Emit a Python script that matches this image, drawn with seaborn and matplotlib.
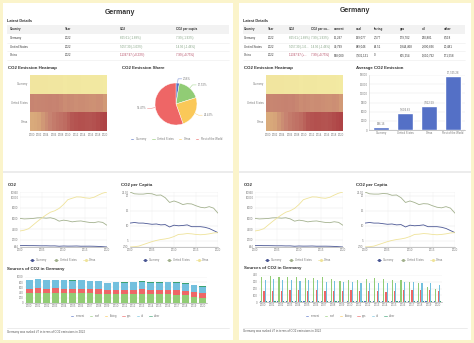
import numpy as np
import pandas as pd
import matplotlib
matplotlib.use('Agg')
import matplotlib.pyplot as plt
import seaborn as sns
from matplotlib.patches import Rectangle, Patch
from matplotlib.lines import Line2D
from matplotlib.colors import LinearSegmentedColormap

# ---------------- data ----------------
years = list(range(2000, 2021))
countries = ['Germany', 'United States', 'China']
co2_germany = [900, 917, 899, 899, 885, 866, 874, 848, 855, 788, 833, 808, 815, 833, 792, 796, 801, 786, 754, 702, 644]
co2_us = [6010, 5910, 5950, 6000, 6110, 6130, 6050, 6130, 5920, 5490, 5680, 5560, 5360, 5480, 5530, 5380, 5250, 5210, 5380, 5260, 4710]
co2_china = [3650, 3800, 4080, 4760, 5440, 6070, 6660, 7170, 7440, 7890, 8620, 9520, 9790, 10050, 10020, 9860, 9780, 9970, 10380, 10740, 10960]
pc_germany = [10.9, 11.1, 10.9, 10.9, 10.7, 10.5, 10.6, 10.3, 10.4, 9.6, 10.2, 10.0, 10.1, 10.3, 9.7, 9.7, 9.7, 9.5, 9.1, 8.4, 7.7]
pc_us = [21.3, 20.7, 20.6, 20.6, 20.8, 20.7, 20.2, 20.3, 19.4, 17.8, 18.3, 17.8, 17.1, 17.4, 17.3, 16.7, 16.2, 16.0, 16.4, 15.9, 14.2]
pc_china = [2.9, 3.0, 3.2, 3.7, 4.2, 4.7, 5.1, 5.4, 5.6, 5.9, 6.4, 7.1, 7.2, 7.4, 7.3, 7.1, 7.0, 7.1, 7.3, 7.6, 7.7]

regions = ['Germany', 'United States', 'China', 'Rest of the World']
avg_co2 = [826.16, 5604.83, 7812.59, 17745.28]

sources = ['cement', 'coal', 'flaring', 'gas', 'oil', 'other']
src_cement = [14, 13, 13, 13, 13, 13, 14, 14, 14, 12, 13, 14, 13, 13, 13, 13, 13, 14, 14, 14, 14]
src_coal = [375, 380, 370, 375, 365, 355, 358, 365, 345, 315, 330, 330, 340, 350, 335, 330, 320, 300, 280, 225, 190]
src_flaring = [2, 2, 2, 2, 2, 2, 2, 2, 2, 2, 2, 2, 2, 2, 2, 2, 2, 2, 2, 2, 2]
src_gas = [165, 170, 170, 172, 172, 170, 172, 165, 170, 160, 172, 160, 160, 170, 150, 158, 175, 180, 175, 175, 170]
src_oil = [330, 340, 325, 320, 315, 320, 320, 290, 310, 290, 290, 280, 285, 285, 285, 285, 290, 290, 275, 280, 255]
src_other = [8, 8, 8, 8, 8, 8, 8, 8, 8, 7, 8, 8, 8, 8, 8, 8, 8, 8, 8, 8, 8]

table_left_header = ['Country', 'Year', 'CO2', 'CO2 per capita']
table_left_rows = [
    ['Germany', '2022', '665.61 (-1.89%)', '7.99 (-1.93%)'],
    ['United States', '2022', '5057.30 (-1.03%)', '14.95 (-1.46%)'],
    ['China', '2022', '11397.97 (+0.23%)', '7.99 (+0.75%)'],
]
table_right_header = ['Country', 'Year', 'CO2', 'CO2 per ca...', 'cement', 'coal', 'flaring', 'gas', 'oil', 'other']
table_right_rows = [
    ['Germany', '2022', '665.61 (-1.89%)', '7.99 (-1.93%)', '15,297', '199,077', '2,577', '179,702', '250,881', '8,518'],
    ['United States', '2022', '5057.30 (-1.0...', '14.95 (-1.46%)', '40,799', '889,046', '64.51', '1,844,468', '2,000,836', '20,481'],
    ['China', '2022', '11397.97 (+...', '7.99 (+0.75%)', '858,000', '7,931,131', '0', '805,254', '1,610,792', '171,558'],
]
footer = 'Germany was ranked #7 in terms of CO2 emissions in 2022'

# ---------------- style ----------------
W, H = 474, 343
sns.set_theme(style='white')
plt.rcParams['font.family'] = ['Liberation Sans', 'DejaVu Sans']

PAL = ['#5470c6', '#91cc75', '#fac858', '#ee6666', '#73c0de', '#3ba272']
src_pal = dict(zip(sources, PAL))
line_pal = {'Germany': '#4b5794', 'United States': '#a3b18e', 'China': '#efe39a'}
pie_colors = PAL[:4]
cmap = LinearSegmentedColormap.from_list('co2', [(0, '#f3eba3'), (0.29, '#d9ab7b'), (0.52, '#c78471'), (1.0, '#ae4446')])
TXT = '#333333'
TICK = '#777777'

fig = plt.figure(figsize=(W / 100, H / 100), dpi=100, facecolor='#fbf4cb')
bg = fig.add_axes([0, 0, 1, 1])
bg.set_xlim(0, W)
bg.set_ylim(H, 0)
bg.axis('off')


def add_ax(x0, y0, x1, y1):
    return fig.add_axes([x0 / W, 1 - y1 / H, (x1 - x0) / W, (y1 - y0) / H])


def txt(x, y, s, size, **kw):
    kw.setdefault('color', TXT)
    kw.setdefault('va', 'center')
    bg.text(x, y, s, fontsize=size, **kw)


def style_axis(ax, grid_x=False):
    for s in ['top', 'right', 'left']:
        ax.spines[s].set_visible(False)
    ax.spines['bottom'].set_color('#9a9a9a')
    ax.spines['bottom'].set_linewidth(0.4)
    ax.tick_params(labelsize=2, length=0, pad=1, colors=TICK)
    ax.grid(axis='y', color='#e6e6e6', lw=0.3)
    if grid_x:
        ax.grid(axis='x', color='#eeeeee', lw=0.3)
    ax.set_axisbelow(True)
    ax.set_xlabel('')
    ax.set_ylabel('')
    ax.set_facecolor('none')


# panels
for px0, px1 in [(3, 233), (239, 471)]:
    bg.add_patch(Rectangle((px0, 3), px1 - px0, 337, facecolor='white', edgecolor='none'))
    bg.add_patch(Rectangle((px0, 170.5), px1 - px0, 2.5, facecolor='#ececec', edgecolor='none'))
    bg.plot([px0 + 4, px1 - 4], [328, 328], color='#e4e4e4', lw=0.5)

# long frames
df_co2 = pd.DataFrame({'year': years * 3,
                       'value': co2_germany + co2_us + co2_china,
                       'country': sum([[c] * len(years) for c in countries], [])})
df_pc = pd.DataFrame({'year': years * 3,
                      'value': pc_germany + pc_us + pc_china,
                      'country': sum([[c] * len(years) for c in countries], [])})
hm = pd.DataFrame([co2_germany, co2_us, co2_china], index=countries, columns=years)
src_lists = [src_cement, src_coal, src_flaring, src_gas, src_oil, src_other]
years_str = [str(y) for y in years]
df_src = pd.DataFrame({'year': years_str * 6,
                       'value': sum(src_lists, []),
                       'source': sum([[s] * len(years) for s in sources], [])})


def draw_table(x0, x1, colx, header, rows):
    bg.add_patch(Rectangle((x0, 25), x1 - x0, 8.5, facecolor='#f2f2f2', edgecolor='none'))
    for yy in [42.5, 51, 59.5]:
        bg.plot([x0, x1], [yy, yy], color='#ececec', lw=0.4)
    for cx, h in zip(colx, header):
        txt(cx, 29.2, h, 2.2, fontweight='bold')
    for r, ry in zip(rows, [38, 46.8, 55.3]):
        for ci, (cx, v) in enumerate(zip(colx, r)):
            col = TXT
            if ci in (2, 3):
                col = '#b0405a' if '+' in v else '#7f9f7f'
            txt(cx, ry, v, 2.1, color=col)


def draw_heatmap(x0):
    ax = add_ax(x0, 75, x0 + 77, 131)
    sns.heatmap(hm, cmap=cmap, vmin=600, vmax=11000, cbar=False, ax=ax,
                xticklabels=2, yticklabels=True, linewidths=0)
    ax.tick_params(labelsize=2, length=0, pad=1.5, colors=TICK)
    plt.setp(ax.get_xticklabels(), rotation=0)
    plt.setp(ax.get_yticklabels(), rotation=0)
    ax.set_xlabel('')
    ax.set_ylabel('')


def line_chart(x0, x1, df, ylims, ticks, fmt):
    ax = add_ax(x0, 192, x1, 247)
    sns.lineplot(data=df, x='year', y='value', hue='country', palette=line_pal,
                 ax=ax, legend=False, linewidth=0.6)
    style_axis(ax, grid_x=True)
    ax.set_xlim(2000, 2020)
    ax.set_xticks([2000, 2005, 2010, 2015, 2020])
    ax.set_ylim(*ylims)
    tk = [ylims[0]] + ticks + [ylims[1]]
    ax.set_yticks(tk)
    ax.set_yticklabels([fmt(t) for t in tk])
    return ax


def line_legend(cx):
    handles = [Line2D([], [], color=line_pal[c], lw=0.5, marker='o', markersize=1.2) for c in countries]
    fig.legend(handles, countries, loc='center', bbox_to_anchor=(cx / W, 1 - 260 / H), ncol=3,
               fontsize=2, frameon=False, handlelength=1.6, columnspacing=2.5, handletextpad=0.5,
               labelcolor=TICK)


def src_legend(cx):
    handles = [Patch(facecolor=src_pal[s]) for s in sources]
    fig.legend(handles, sources, loc='center', bbox_to_anchor=(cx / W, 1 - 316 / H), ncol=6,
               fontsize=2, frameon=False, handlelength=1.6, handleheight=0.9, columnspacing=1.5,
               handletextpad=0.5, labelcolor=TICK)


co2_lims = (min(co2_germany), max(co2_china))
pc_lims = (min(pc_china), max(pc_us))

# ================= LEFT PANEL =================
txt(120, 12, 'Germany', 5, fontweight='bold', ha='center')
txt(7, 21, 'Latest Details', 2.8, fontweight='bold')
draw_table(7, 229, [10, 65, 120, 176], table_left_header, table_left_rows)
txt(8, 68, 'CO2 Emission Heatmap', 3.2, fontweight='bold')
txt(122, 68, 'CO2 Emission Share', 3.2, fontweight='bold')
draw_heatmap(30)

# pie
axp = add_ax(155, 83, 197, 125)
share = np.array(avg_co2)
wedges, _ = axp.pie(share, colors=pie_colors, startangle=90, counterclock=False, radius=1,
                    wedgeprops=dict(linewidth=0.3, edgecolor='white'))
axp.set_xlim(-1, 1)
axp.set_ylim(-1, 1)
axp.set_aspect('equal')
for w, v in zip(wedges, share / share.sum() * 100):
    ang = np.deg2rad((w.theta1 + w.theta2) / 2)
    x, y = np.cos(ang), np.sin(ang)
    sgn = 1 if x >= 0 else -1
    ex, ey = 1.2 * x, 1.2 * y
    axp.plot([1.02 * x, ex, ex + 0.18 * sgn], [1.02 * y, ey, ey], color=w.get_facecolor(), lw=0.3, clip_on=False)
    axp.text(ex + 0.24 * sgn, ey, f'{v:.2f}%', fontsize=2, color=TICK, va='center',
             ha='left' if sgn > 0 else 'right', clip_on=False)
fig.legend([Patch(facecolor=c) for c in pie_colors], regions, loc='center',
           bbox_to_anchor=(176 / W, 1 - 139 / H), ncol=4, fontsize=2, frameon=False,
           handlelength=1.6, handleheight=0.9, columnspacing=1.5, handletextpad=0.5, labelcolor=TICK)

txt(8, 185, 'CO2', 3.2, fontweight='bold')
txt(121, 185, 'CO2 per Capita', 3.2, fontweight='bold')
line_chart(20, 107, df_co2, co2_lims, [2000, 4000, 6000, 8000, 10000], lambda t: f'{t:.0f}')
line_chart(130, 218, df_pc, pc_lims, [5, 10, 15, 20], lambda t: f'{t:.2f}' if t not in (5, 10, 15, 20) else f'{t:.0f}')
line_legend(63)
line_legend(176)

txt(7, 269, 'Sources of CO2 in Germany', 3.2, fontweight='bold')
axs = add_ax(25, 277, 207, 303)
cum = np.cumsum(np.array(src_lists), axis=0)
for i in range(len(sources) - 1, -1, -1):
    sns.barplot(x=years_str, y=cum[i], color=src_pal[sources[i]], ax=axs, width=0.75,
                saturation=1, linewidth=0)
style_axis(axs)
axs.set_ylim(0, 1000)
axs.set_yticks(range(0, 1001, 200))
src_legend(115)
txt(7, 332, footer, 2.1, color='#555555')

# ================= RIGHT PANEL =================
txt(355, 11, 'Germany', 5, fontweight='bold', ha='center')
txt(243, 21, 'Latest Details', 2.8, fontweight='bold')
draw_table(243, 465, [244, 268, 289, 311, 334, 356, 374, 400, 422, 444], table_right_header, table_right_rows)
txt(244, 68, 'CO2 Emission Heatmap', 3.2, fontweight='bold')
txt(356, 68, 'Average CO2 Emission', 3.2, fontweight='bold')
draw_heatmap(266)

axa = add_ax(369, 75, 465, 130)
sns.barplot(x=regions, y=avg_co2, color=PAL[0], ax=axa, width=0.65, saturation=1)
style_axis(axa)
axa.spines['left'].set_visible(True)
axa.spines['left'].set_color('#cccccc')
axa.spines['left'].set_linewidth(0.4)
axa.set_ylim(0, 18000)
axa.set_yticks(range(0, 18001, 3000))
for c in axa.containers:
    axa.bar_label(c, labels=[f'{v:,.2f}' for v in avg_co2], fontsize=2, color=TICK, padding=1)

txt(244, 185, 'CO2', 3.2, fontweight='bold')
txt(356, 185, 'CO2 per Capita', 3.2, fontweight='bold')
line_chart(255, 343, df_co2, co2_lims, [2000, 4000, 6000, 8000, 10000], lambda t: f'{t:.0f}')
line_chart(365, 455, df_pc, pc_lims, [5, 10, 15, 20], lambda t: f'{t:.2f}' if t not in (5, 10, 15, 20) else f'{t:.0f}')
line_legend(298)
line_legend(410)

txt(244, 268, 'Sources of CO2 in Germany', 3.2, fontweight='bold')
axg = add_ax(259, 275, 442, 302)
sns.barplot(data=df_src, x='year', y='value', hue='source', hue_order=sources, palette=src_pal,
            ax=axg, width=0.8, saturation=1, legend=False, linewidth=0)
style_axis(axg)
axg.set_ylim(0, 400)
axg.set_yticks(range(0, 401, 100))
src_legend(350)
txt(243, 331, footer, 2.1, color='#555555')

fig.savefig('out.png', dpi=100, facecolor=fig.get_facecolor())
